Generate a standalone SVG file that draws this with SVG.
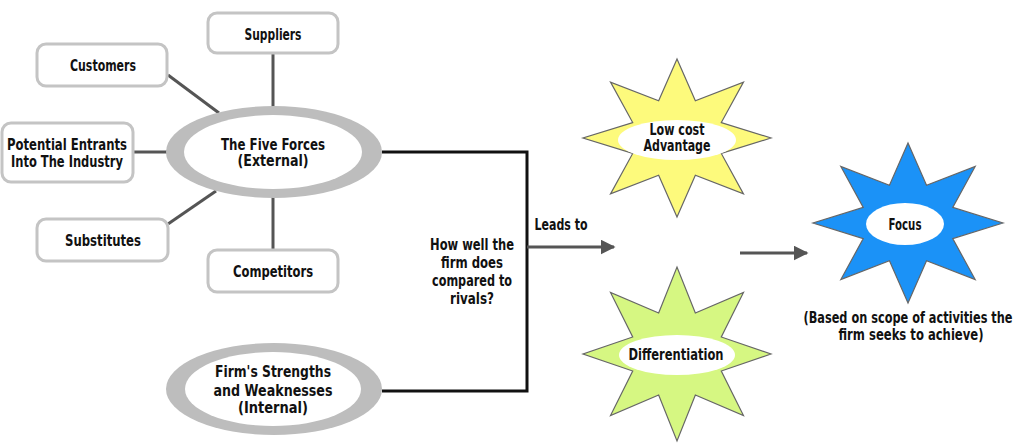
<svg xmlns="http://www.w3.org/2000/svg" xmlns:xlink="http://www.w3.org/1999/xlink" width="1024" height="446" viewBox="0 0 1024 446">
<style>
.t{font-family:"DejaVu Sans","Liberation Sans",sans-serif;font-stretch:condensed;font-weight:bold;font-size:15px;fill:#111;text-anchor:middle}
.box{fill:#fff;stroke:#c4c4c4;stroke-width:3}
.ring{fill:#bdbdbd}
.hole{fill:#fff}
.spoke{stroke:#555;stroke-width:3;fill:none}
.main{stroke:#111;stroke-width:3;fill:none}
.arr{stroke:#555;stroke-width:3;fill:none}
.star{stroke:#666;stroke-width:1.2}
</style>
<defs>
<path id="star" vector-effect="non-scaling-stroke" d="M1,0 L.4712,.1952 L.7071,.7071 L.1952,.4712 L0,1 L-.1952,.4712 L-.7071,.7071 L-.4712,.1952 L-1,0 L-.4712,-.1952 L-.7071,-.7071 L-.1952,-.4712 L0,-1 L.1952,-.4712 L.7071,-.7071 L.4712,-.1952 Z"/>
<marker id="ah" viewBox="0 0 10 10" refX="9" refY="5" markerWidth="5" markerHeight="5" orient="auto" markerUnits="strokeWidth">
<path d="M0,0 L10,5 L0,10 Z" fill="#555"/>
</marker>
</defs>
<rect width="1024" height="446" fill="#fff"/>

<g id="connectors">
<line class="spoke" x1="273" y1="53" x2="273" y2="107"/>
<line class="spoke" x1="168" y1="75" x2="219" y2="113"/>
<line class="spoke" x1="133" y1="152" x2="167" y2="152"/>
<line class="spoke" x1="168" y1="224" x2="216" y2="191"/>
<line class="spoke" x1="273" y1="197" x2="273" y2="250"/>
<polyline class="main" points="382,152 527,152 527,391 382,391"/>
<line class="arr" x1="527" y1="247" x2="614" y2="247" marker-end="url(#ah)"/>
<line class="arr" x1="740" y1="253" x2="807" y2="253" marker-end="url(#ah)"/>
<text class="t" x="561" y="230" textLength="53" lengthAdjust="spacingAndGlyphs">Leads to</text>
<text class="t" x="472" y="250" textLength="84" lengthAdjust="spacingAndGlyphs">How well the</text>
<text class="t" x="472" y="268" textLength="62" lengthAdjust="spacingAndGlyphs">firm does</text>
<text class="t" x="472" y="286" textLength="80" lengthAdjust="spacingAndGlyphs">compared to</text>
<text class="t" x="472" y="304" textLength="44" lengthAdjust="spacingAndGlyphs">rivals?</text>
</g>

<g id="suppliers">
<rect class="box" x="208" y="13" width="130" height="40" rx="9"/>
<text class="t" x="273" y="40" textLength="57" lengthAdjust="spacingAndGlyphs">Suppliers</text>
</g>
<g id="customers">
<rect class="box" x="37" y="44" width="130" height="42" rx="9"/>
<text class="t" x="103" y="71" textLength="66" lengthAdjust="spacingAndGlyphs">Customers</text>
</g>
<g id="entrants">
<rect class="box" x="2" y="123" width="131" height="59" rx="9"/>
<text class="t" x="67" y="150" textLength="120" lengthAdjust="spacingAndGlyphs">Potential Entrants</text>
<text class="t" x="67" y="167" textLength="112" lengthAdjust="spacingAndGlyphs">Into The Industry</text>
</g>
<g id="substitutes">
<rect class="box" x="37" y="219" width="131" height="42" rx="9"/>
<text class="t" x="103" y="246" textLength="76" lengthAdjust="spacingAndGlyphs">Substitutes</text>
</g>
<g id="competitors">
<rect class="box" x="208" y="250" width="130" height="42" rx="9"/>
<text class="t" x="273" y="277" textLength="80" lengthAdjust="spacingAndGlyphs">Competitors</text>
</g>

<g id="five-forces">
<ellipse class="ring" cx="274" cy="152" rx="108" ry="46"/>
<ellipse class="hole" cx="273" cy="152" rx="89" ry="37"/>
<text class="t" x="273" y="150" textLength="104" lengthAdjust="spacingAndGlyphs">The Five Forces</text>
<text class="t" x="273" y="166" textLength="71" lengthAdjust="spacingAndGlyphs">(External)</text>
</g>
<g id="firm">
<ellipse class="ring" cx="274" cy="389" rx="108" ry="46"/>
<ellipse class="hole" cx="273" cy="389" rx="88" ry="37"/>
<text class="t" x="273" y="377" textLength="116" lengthAdjust="spacingAndGlyphs">Firm's Strengths</text>
<text class="t" x="273" y="396" textLength="119" lengthAdjust="spacingAndGlyphs">and Weaknesses</text>
<text class="t" x="273" y="413" textLength="70" lengthAdjust="spacingAndGlyphs">(Internal)</text>
</g>

<g id="low-cost">
<use xlink:href="#star" class="star" fill="#fdfa7c" transform="translate(677,138) scale(94,79)"/>
<ellipse class="hole" cx="677" cy="140" rx="59" ry="20"/>
<text class="t" x="677" y="135" textLength="55" lengthAdjust="spacingAndGlyphs">Low cost</text>
<text class="t" x="677" y="151" textLength="67" lengthAdjust="spacingAndGlyphs">Advantage</text>
</g>
<g id="differentiation">
<use xlink:href="#star" class="star" fill="#d6f782" transform="translate(677,354) scale(94,87)"/>
<ellipse class="hole" cx="677" cy="355" rx="58" ry="20"/>
<text class="t" x="676" y="360" textLength="95" lengthAdjust="spacingAndGlyphs">Differentiation</text>
</g>
<g id="focus">
<use xlink:href="#star" class="star" fill="#1b92f7" transform="translate(908,223) scale(95,80)"/>
<ellipse class="hole" cx="905" cy="224" rx="39" ry="21"/>
<text class="t" x="905" y="230" textLength="33" lengthAdjust="spacingAndGlyphs">Focus</text>
<text class="t" x="908" y="323" textLength="209" lengthAdjust="spacingAndGlyphs">(Based on scope of activities the</text>
<text class="t" x="911" y="340" textLength="145" lengthAdjust="spacingAndGlyphs">firm seeks to achieve)</text>
</g>
</svg>
